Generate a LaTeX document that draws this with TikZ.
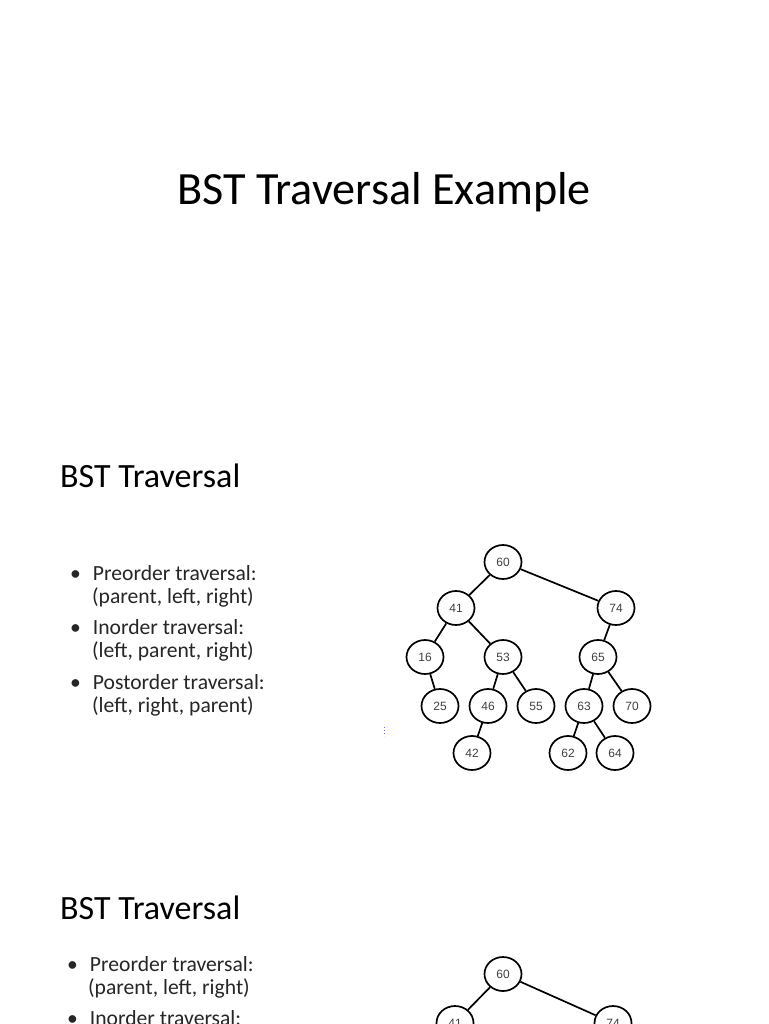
\documentclass[tikz,border=0pt]{standalone}
\usepackage{fontspec}
\setmainfont{Carlito}
\setsansfont{Liberation Sans}
\usetikzlibrary{shapes.geometric}
\begin{document}
\begin{tikzpicture}[x=1pt,y=-1pt,
  tn/.style={draw,line width=1.7pt,ellipse,minimum width=37pt,minimum height=34pt,inner sep=0pt,font=\fontsize{12}{12}\selectfont\sffamily,text=black!75},
  edge/.style={line width=1.7pt},
  bul/.style={anchor=west,font=\fontsize{21.6}{26}\selectfont,text=black!85}]
\useasboundingbox (0,0) rectangle (768,1024);
\clip (0,0) rectangle (768,1024);
\fill[white] (0,0) rectangle (768,1024);
\node[font=\fontsize{46.2}{50}\selectfont] (title) at (384,192) {BST Traversal Example};
% slide 1
\node[anchor=west,inner xsep=0pt,font=\fontsize{34}{38}\selectfont] (h1) at (60,476) {BST Traversal};
\node[bul,inner xsep=0pt] (b1) at (70,573) {\textbullet\hspace{12pt}Preorder traversal:};
\node[bul,inner xsep=0pt] (b1b) at (92,597) {(parent, left, right)};
\node[bul,inner xsep=0pt] (b2) at (70,627) {\textbullet\hspace{12pt}Inorder traversal:};
\node[bul,inner xsep=0pt] (b2b) at (92,651) {(left, parent, right)};
\node[bul,inner xsep=0pt] (b3) at (70,682) {\textbullet\hspace{12pt}Postorder traversal:};
\node[bul,inner xsep=0pt] (b3b) at (92,706) {(left, right, parent)};
\draw[blue!60,line width=1pt,dotted] (384,727) -- (384,736);
\begin{scope}[every node/.style={tn}]
\node (n60) at (503,562) {60};
\node (n41) at (456,608) {41};
\node (n74) at (616,608) {74};
\node (n16) at (425,657) {16};
\node (n53) at (503,657) {53};
\node (n65) at (598,657) {65};
\node (n25) at (440,706) {25};
\node (n46) at (488,706) {46};
\node (n55) at (536,706) {55};
\node (n63) at (584,706) {63};
\node (n70) at (632,706) {70};
\node (n42) at (472,753) {42};
\node (n62) at (568,753) {62};
\node (n64) at (615,753) {64};
\end{scope}
\foreach \a/\b in {60/41,60/74,41/16,41/53,74/65,16/25,53/46,53/55,65/63,65/70,46/42,63/62,63/64}
  \draw[edge] (n\a) -- (n\b);
% slide 2
\node[anchor=west,inner xsep=0pt,font=\fontsize{34}{38}\selectfont] (h2) at (60,908) {BST Traversal};
\node[bul,inner xsep=0pt] (c1) at (67,964) {\textbullet\hspace{12pt}Preorder traversal:};
\node[bul,inner xsep=0pt] (c1b) at (88,988) {(parent, left, right)};
\node[bul,inner xsep=0pt] (c2) at (67,1018) {\textbullet\hspace{12pt}Inorder traversal:};
\begin{scope}[every node/.style={tn}]
\node (m60) at (503,974) {60};
\node (m41) at (455,1023) {41};
\node (m74) at (613,1023) {74};
\end{scope}
\draw[edge] (m60) -- (m41);
\draw[edge] (m60) -- (m74);
\end{tikzpicture}
\end{document}
